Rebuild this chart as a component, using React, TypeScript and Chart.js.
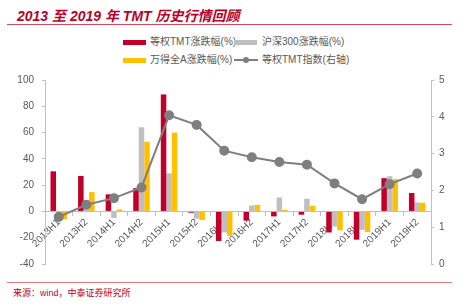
import React, { useEffect, useRef } from "react";
import { Chart, registerables } from "chart.js";

Chart.register(...registerables);

const categories = ["2013H1", "2013H2", "2014H1", "2014H2", "2015H1", "2015H2", "2016H1", "2016H2", "2017H1", "2017H2", "2018H1", "2018H2", "2019H1", "2019H2"];
const tmtChange = [30.5, 27, 13, 17.7, 89, -1, -22.5, -7, -3.8, -2.5, -16, -21.5, 25.3, 14];
const hs300Change = [-7, 7.5, -5, 64, 29, -5.5, -16, 4.5, 10.6, 9.6, -11.5, -14, 26.8, 6.8];
const windAChange = [-6, 14.7, 1.5, 53, 60, -6.6, -18.5, 5, 1.3, 4.3, -14.4, -15.7, 24.6, 6.6];
const tmtIndex = [1.28, 1.61, 1.79, 2.08, 4.04, 3.78, 3.08, 2.9, 2.77, 2.7, 2.19, 1.76, 2.17, 2.46];

const RED = "#C0002A";
const GREY = "#BFBFBF";
const YELLOW = "#FFC000";
const LINE = "#7F7F7F";
const TXT = "#595959";
const FONT = "'Liberation Sans', 'Noto Sans CJK SC', sans-serif";

export default function App() {
  const ref = useRef<HTMLCanvasElement | null>(null);

  useEffect(() => {
    if (!ref.current) return;
    const chart = new Chart(ref.current, {
      type: "bar",
      data: {
        labels: categories,
        datasets: [
          {
            type: "line",
            label: "等权TMT指数(右轴)",
            data: tmtIndex,
            yAxisID: "y1",
            borderColor: LINE,
            backgroundColor: LINE,
            borderWidth: 2,
            pointRadius: 4,
            pointBackgroundColor: LINE,
            pointBorderColor: LINE,
            order: 0,
          } as any,
          { label: "等权TMT涨跌幅(%)", data: tmtChange, backgroundColor: RED, yAxisID: "y", order: 1 },
          { label: "沪深300涨跌幅(%)", data: hs300Change, backgroundColor: GREY, yAxisID: "y", order: 1 },
          { label: "万得全A涨跌幅(%)", data: windAChange, backgroundColor: YELLOW, yAxisID: "y", order: 1 },
        ],
      },
      options: {
        responsive: false,
        animation: false,
        layout: { padding: { top: 14, bottom: 14, left: 0, right: 0 } },
        datasets: { bar: { barPercentage: 1, categoryPercentage: 0.6 } } as any,
        plugins: { legend: { display: false }, tooltip: { enabled: false } },
        scales: {
          x: {
            position: { y: 0 } as any,
            offset: true,
            grid: { display: true, drawOnChartArea: false, offset: true, tickLength: 4, color: GREY },
            border: { color: GREY },
            ticks: { autoSkip: false, minRotation: 45, maxRotation: 45, color: TXT, font: { family: FONT, size: 10 }, padding: 1 },
          },
          y: {
            position: "left",
            min: -40,
            max: 100,
            ticks: { stepSize: 20, color: TXT, font: { family: FONT, size: 10 }, padding: 8 },
            grid: { drawOnChartArea: false, tickLength: 3, color: GREY },
            border: { color: GREY },
            afterFit: (s: any) => { s.width = 45; },
          },
          y1: {
            position: "right",
            min: 0,
            max: 5,
            ticks: { stepSize: 1, color: TXT, font: { family: FONT, size: 10 }, padding: 5 },
            grid: { drawOnChartArea: false, tickLength: 3, color: GREY },
            border: { color: GREY },
            afterFit: (s: any) => { s.width = 37; },
          },
        },
      },
    });
    return () => chart.destroy();
  }, []);

  const legendText: React.CSSProperties = { fontFamily: FONT, fontSize: 10, color: TXT, whiteSpace: "nowrap", position: "absolute", lineHeight: "12px" };
  const box = (c: string, x: number, y: number) => (
    <div style={{ position: "absolute", left: x, top: y - 2, width: 23, height: 5, background: c }} />
  );

  return (
    <div style={{ position: "absolute", left: 0, top: 0, width: 468, height: 306, background: "#fff", overflow: "hidden" }}>
      <div style={{ position: "absolute", left: 17, top: 8, fontFamily: FONT, fontSize: 14, fontWeight: "bold", fontStyle: "italic", color: "#B8002A", whiteSpace: "nowrap", lineHeight: "16px" }}>
        2013 至 2019 年 TMT 历史行情回顾
      </div>
      <div style={{ position: "absolute", left: 7, top: 24, width: 445, height: 1, background: "#D9475A" }} />

      {box(RED, 123, 42)}
      <div style={{ ...legendText, left: 150, top: 36 }}>等权TMT涨跌幅(%)</div>
      {box(GREY, 234, 42)}
      <div style={{ ...legendText, left: 262, top: 36 }}>沪深300涨跌幅(%)</div>
      {box(YELLOW, 123, 60)}
      <div style={{ ...legendText, left: 150, top: 54 }}>万得全A涨跌幅(%)</div>
      <div style={{ position: "absolute", left: 234, top: 59, width: 24, height: 2, background: LINE }} />
      <div style={{ position: "absolute", left: 243, top: 57, width: 6, height: 6, borderRadius: 3, background: LINE }} />
      <div style={{ ...legendText, left: 262, top: 54 }}>等权TMT指数(右轴)</div>

      <canvas ref={ref} width={468} height={212} style={{ position: "absolute", left: 0, top: 66, width: 468, height: 212 }} />

      <div style={{ position: "absolute", left: 7, top: 282, width: 445, height: 1, background: "#E07A86" }} />
      <div style={{ position: "absolute", left: 13, top: 287, fontFamily: FONT, fontSize: 9, color: "#C0002A", whiteSpace: "nowrap", lineHeight: "12px" }}>
        来源：wind，中泰证券研究所
      </div>
    </div>
  );
}
